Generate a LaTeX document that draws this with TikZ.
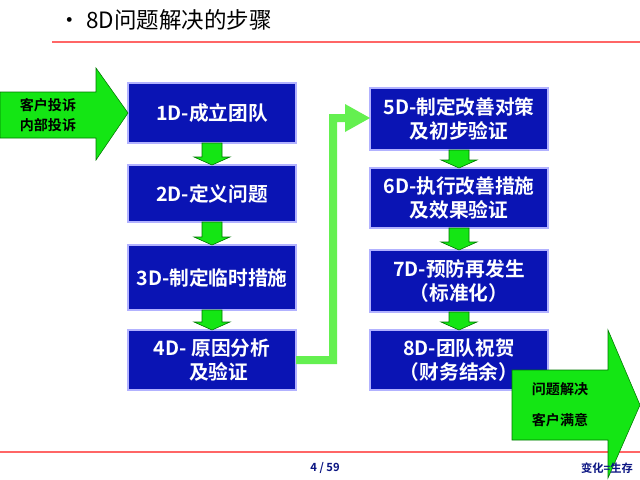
\documentclass[tikz,border=0pt]{standalone}
\usepackage{fontspec}
\setmainfont{Noto Sans CJK SC}
\newfontfamily\cjkb{Noto Sans CJK SC Bold}
\begin{document}
\begin{tikzpicture}[x=0.025cm,y=-0.025cm,
  box/.style={draw=blue!30,line width=0.8pt,fill={rgb,255:red,10;green,20;blue,180},text=white,font=\cjkb\fontsize{14}{17}\selectfont,align=center,inner sep=0pt},
  garrow/.style={fill={rgb,255:red,20;green,230;blue,20},draw={rgb,255:red,0;green,120;blue,0},line width=0.4pt},
  foot/.style={text={rgb,255:red,10;green,20;blue,130},font=\cjkb\fontsize{8}{10}\selectfont}]
\useasboundingbox (0,0) rectangle (640,480);
\fill[white] (0,0) rectangle (640,480);
\node[font=\fontsize{16}{19}\selectfont,anchor=west] (title) at (54,20) {•\ 8D问题解决的步骤};
\draw[red!60,line width=1.2pt] (52,42) -- (640,42);
\draw[red!60,line width=1.2pt] (0,452) -- (640,452);
% boxes
\foreach \n/\x/\ya/\yb/\t in {d1/128/83/143/{1D-成立团队},d2/128/165/222/{2D-定义问题},d3/128/245/310/{3D-制定临时措施},d4/128/330/390/{4D-\ 原因分析\\\ \ \ 及验证},
 d5/370/88/150/{5D-制定改善对策\\及初步验证},d6/370/168/228/{6D-执行改善措施\\及效果验证},d7/370/250/312/{7D-预防再发生\\（标准化）},d8/370/330/390/{8D-团队祝贺\\（财务结余）}}{
  \pgfmathsetmacro\w{(\x==128)?168:178}
  \draw[box] (\x,\ya) rectangle ++(\w,\yb-\ya);
  \node[box,draw=none,fill=none] (\n) at ({\x+\w/2},{(\ya+\yb)/2}) {\t};
}
% small down arrows
\foreach \cx/\ya/\yb in {212/143/165,212/222/245,212/310/330,459/150/168,459/228/250,459/312/330}{
  \path[garrow] (\cx-10,\ya) -- (\cx+10,\ya) -- (\cx+10,\yb-8) -- (\cx+18,\yb-8) -- (\cx,\yb) -- (\cx-18,\yb-8) -- (\cx-10,\yb-8) -- cycle;
}
% L connector
\path[fill={rgb,255:red,100;green,240;blue,80}] (296,356) -- (329,356) -- (329,114) -- (345,114) -- (345,104) -- (370,118) -- (345,132) -- (345,122) -- (337,122) -- (337,364) -- (296,364) -- cycle;
% input arrow
\path[garrow] (0,92) -- (96,92) -- (96,68) -- (128,113) -- (96,160) -- (96,138) -- (0,138) -- cycle;
\node[font=\cjkb\fontsize{10}{14}\selectfont,align=center] (in) at (48,115) {客户投诉\\内部投诉};
% output arrow
\path[garrow] (512,370) -- (608,370) -- (608,330) -- (640,405) -- (608,478) -- (608,440) -- (512,440) -- cycle;
\node[font=\cjkb\fontsize{10}{14}\selectfont,align=center] (out) at (560,405) {问题解决\\[8pt]客户满意};
\node[foot] (pg) at (325,468) {4 / 59};
\node[foot] (slogan) at (607,468) {变化=生存};
\end{tikzpicture}
\end{document}
